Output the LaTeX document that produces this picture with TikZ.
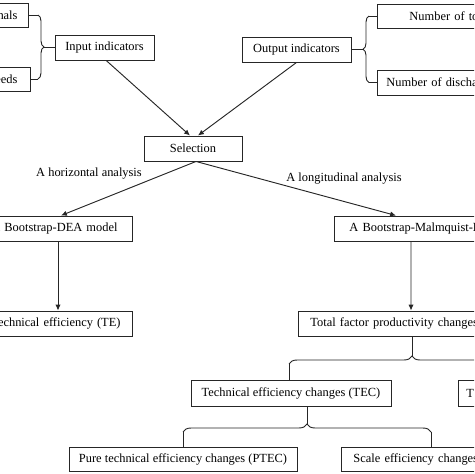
\documentclass[tikz,border=0pt]{standalone}
\usepackage{fontspec}
\setmainfont{Liberation Serif}
\usepackage{xcolor}
\usepackage{tikz}
\usetikzlibrary{arrows.meta}
\usetikzlibrary{shapes}
\usetikzlibrary{positioning}
\usetikzlibrary{decorations.pathreplacing}
\tikzset{
  IndBox/.style={
    rectangle, draw=black!85, line width=0.8pt,
    minimum height=0.75cm, inner ysep=2pt,
    font=\fontsize{10.6}{12.7}\selectfont,
  },
  CutLeft/.style={IndBox, anchor=east, text width=4cm, align=right},
  CutRight/.style={IndBox, anchor=west, text width=6cm, align=left},
  ArrowLine/.style={-{Latex[length=5pt,width=4.5pt]}, line width=0.8pt, draw=black!85},
  BraceLine/.style={line width=0.8pt, draw=black!85,
    decorate, decoration={brace, amplitude=0.18cm}},
  PlainLine/.style={line width=0.8pt, draw=black!85},
  AnLabel/.style={font=\fontsize{10.6}{12.7}\selectfont, inner sep=0pt},
}
\begin{document}
\begin{tikzpicture}[x=0.03cm, y=-0.03cm]
\useasboundingbox (0,0) rectangle (474,474);
\clip (0,0) rectangle (474,474);
% upper level: indicators
\node[CutLeft, inner xsep=0.33cm, minimum height=0.72cm] (STAFF) at (29,15) {nals};
\node[CutLeft, inner xsep=0.39cm, minimum height=0.72cm] (BEDS) at (31,79) {eeds};
\node[IndBox, minimum width=2.97cm] (IN) at (104.5,47.5) {Input indicators};
\node[IndBox, minimum width=3.27cm] (OUT) at (296.5,49.5) {Output indicators};
\node[CutRight, inner xsep=0.96cm, minimum height=0.72cm] (VIS) at (377,16) {Number of to};
\node[CutRight, inner xsep=0.27cm] (DIS) at (377,82.5) {Number of discha};
\coordinate (INA) at (38,15);
\coordinate (INB) at (38,79);
\coordinate (OUTA) at (369,82.5);
\coordinate (OUTB) at (369,16);
\draw[PlainLine] (STAFF.east) -- (INA);
\draw[PlainLine] (BEDS.east) -- (INB);
\draw[BraceLine] (INA) -- (INB);
\draw[PlainLine] (44,47.5) -- (IN.west);
\draw[PlainLine] (VIS.west) -- (OUTB);
\draw[PlainLine] (DIS.west) -- (OUTA);
\draw[BraceLine] (OUTA) -- (OUTB);
\draw[PlainLine] (OUT.east) -- (363,49.5);
% selection and models
\node[IndBox, minimum width=2.94cm] (SEL) at (193,148.5) {Selection};
\draw[ArrowLine] ([xshift=0.05cm]IN.south) -- ([xshift=-0.09cm]SEL.north);
\draw[ArrowLine] (OUT.south) -- ([xshift=0.15cm]SEL.north);
\node[CutLeft, inner xsep=0.45cm] (DEA) at (133,228.5) {A Bootstrap-DEA model};
\node[CutRight, inner xsep=0.45cm] (MALM) at (334,228.5) {A Bootstrap-Malmquist-D};
\draw[ArrowLine] ([xshift=0.09cm]SEL.south) -- ([xshift=-2.16cm]DEA.north east);
\draw[ArrowLine] ([xshift=0.09cm]SEL.south) -- ([xshift=1.86cm]MALM.north west);
\node[AnLabel] (HOR) at (89,174) {A horizontal analysis};
\node[AnLabel] (LON) at (344,179) {A longitudinal analysis};
% results
\node[CutLeft, inner xsep=0.36cm] (TE) at (133,323.5) {echnical efficiency (TE)};
\node[CutRight, inner xsep=0.36cm] (TFP) at (298,323.5) {Total factor productivity changes};
\draw[ArrowLine] ([xshift=-2.25cm]DEA.south east) -- ([xshift=-2.25cm]TE.north east);
\draw[ArrowLine] ([xshift=2.31cm]MALM.south west) -- ([xshift=3.39cm]TFP.north west);
% decomposition
\node[IndBox, minimum width=6cm, minimum height=0.78cm] (TEC) at (291,393) {Technical efficiency changes (TEC)};
\node[CutRight, inner xsep=0.24cm, minimum height=0.78cm] (TC) at (458,393) {T};
\node[IndBox, minimum width=6.84cm, minimum height=0.72cm] (PTEC) at (183,459) {Pure technical efficiency changes (PTEC)};
\node[CutRight, inner xsep=0.36cm, minimum height=0.72cm] (SEC) at (341,459) {Scale efficiency changes};
\coordinate (TFPL) at (289,364);
\coordinate (TFPR) at (535,364);
\coordinate (TFPT) at (412,356);
\draw[BraceLine, decoration={amplitude=0.24cm}] (TFPL) -- (TFPR);
\draw[PlainLine] (TFPT) -- (TFPT |- TFP.south);
\draw[PlainLine] (TFPL) -- (TFPL |- TEC.north);
\draw[PlainLine] (TFPR) -- (TFPR |- TC.north);
\coordinate (TECL) at (183,432);
\coordinate (TECR) at (431,432);
\coordinate (TECT) at (307,424);
\draw[BraceLine, decoration={amplitude=0.24cm}] (TECL) -- (TECR);
\draw[PlainLine] (TECT) -- (TECT |- TEC.south);
\draw[PlainLine] (TECL) -- (TECL |- PTEC.north);
\draw[PlainLine] (TECR) -- (TECR |- SEC.north);
\end{tikzpicture}
\end{document}
